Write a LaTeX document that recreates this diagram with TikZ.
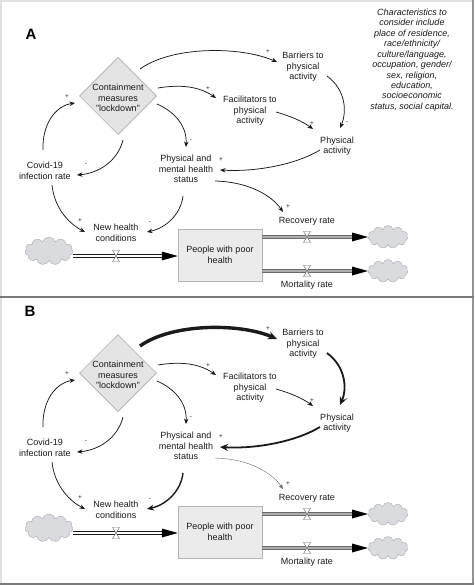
\documentclass[tikz,border=0pt]{standalone}
\usepackage{fontspec}
\setmainfont{Liberation Sans}
\usetikzlibrary{shapes.geometric,shapes.symbols,arrows.meta,calc}
\definecolor{txt}{HTML}{1A1A1A}
\definecolor{dfill}{HTML}{E4E4E4}
\definecolor{dline}{HTML}{9A9A9A}
\definecolor{bfill}{HTML}{EBEBEB}
\definecolor{bline}{HTML}{B4B4B4}
\definecolor{cfill}{HTML}{D9DBDE}
\definecolor{cline}{HTML}{A8AAAD}
\definecolor{framec}{HTML}{7A7A7A}
\tikzset{
 lbl/.style={font=\fontsize{9}{10.5}\selectfont, align=center, text=txt, inner sep=1pt},
 sgn/.style={font=\fontsize{6.5}{7}\selectfont, text=txt, inner sep=0pt},
 panlbl/.style={font=\fontsize{15}{15}\selectfont\bfseries, text=black, inner sep=0pt},
 dia/.style={diamond, draw=dline, fill=dfill, minimum width=77pt, minimum height=77pt, inner sep=0pt, line width=0.5pt},
 stock/.style={rectangle, draw=bline, fill=bfill, minimum width=84pt, minimum height=52pt, line width=0.5pt},
 cld/.style={cloud, cloud puffs=11, aspect=1.7, draw=cline, fill=cfill, inner sep=0pt, line width=0.4pt},
 conn/.style={draw=txt, line width=0.75pt, -{Stealth[length=5.5pt,width=4.5pt]}},
 pipe/.style={draw=black!90, line width=0.9pt, double=white, double distance=1.3pt},
 tipfill/.style={fill=black},
 valve/.pic={\draw[fill=white, draw=black!60, line width=0.45pt] (-3.5,-5.5) -- (3.5,-5.5) -- (-3.5,5.5) -- (3.5,5.5) -- cycle;},
}
\newcommand\drawpanel[1]{%
 \node[dia] (dia#1) at (118,96) {};
 \node[lbl] (diat#1) at (118,98) {Containment\\measures\\"lockdown"};
 \node[lbl] (bar#1) at (303,67) {Barriers to\\physical\\activity};
 \node[lbl] (fac#1) at (250,111) {Facilitators to\\physical\\activity};
 \node[lbl] (pa#1) at (337,146) {Physical\\activity};
 \node[lbl] (cov#1) at (45,171) {Covid-19\\infection rate};
 \node[lbl] (pmh#1) at (186,169) {Physical and\\mental health\\status};
 \node[lbl] (nhc#1) at (116,233) {New health\\conditions};
 \node[stock, lbl] (box#1) at (220,255) {People with poor\\health};
 \node[cld, minimum width=48pt, minimum height=28pt] (cL#1) at (49,251) {};
 \node[cld, minimum width=40pt, minimum height=23pt] (cRa#1) at (388,237) {};
 \node[cld, minimum width=40pt, minimum height=23pt] (cRb#1) at (388,271) {};
 \node[lbl] (rec#1) at (307,221) {Recovery rate};
 \node[lbl] (mort#1) at (307,285) {Mortality rate};
 \coordinate (pL#1) at ($(box#1.west)+(-14,1)$);
 \draw[pipe] (cL#1.east |- pL#1) -- (pL#1);
 \fill[tipfill] ($(box#1.west)+(-16,-3.5)$) -- ($(box#1.west)+(0,1)$) -- ($(box#1.west)+(-16,5.5)$) -- cycle;
 \draw[pipe] ($(box#1.east)+(0,-18)$) -- ($(cRa#1.west)+(-14,0)$);
 \fill[tipfill] ($(cRa#1.west)+(-16,-4.5)$) -- (cRa#1.west) -- ($(cRa#1.west)+(-16,4.5)$) -- cycle;
 \draw[pipe] ($(box#1.east)+(0,16)$) -- ($(cRb#1.west)+(-14,0)$);
 \fill[tipfill] ($(cRb#1.west)+(-16,-4.5)$) -- (cRb#1.west) -- ($(cRb#1.west)+(-16,4.5)$) -- cycle;
 \pic at (116,256) {valve};
 \pic at (307,237) {valve};
 \pic at (307,271) {valve};
 \draw[c1] ($(dia#1)+(22,-27)$) .. controls (172,46) and (240,46) .. ($(bar#1)+(-26,-5)$);
 \draw[c2] ($(dia#1)+(40,-8)$) .. controls (182,84) and (200,87) .. ($(fac#1)+(-34,-13)$);
 \draw[c3] ($(dia#1)+(39,8)$) .. controls (175,112) and (187,126) .. ($(pmh#1)+(0,-22)$);
 \draw[c4] ($(dia#1)+(5,44)$) .. controls (118,160) and (100,173) .. ($(cov#1)+(32,4)$);
 \draw[c5] ($(cov#1)+(-2,-21)$) .. controls (42,125) and (55,106) .. ($(dia#1)+(-43,7)$);
 \draw[c6] ($(bar#1)+(24,9)$) .. controls (346,90) and (347,112) .. ($(pa#1)+(3,-18)$);
 \draw[c7] ($(fac#1)+(26,1)$) .. controls (290,116) and (302,121) .. ($(pa#1)+(-24,-17)$);
 \draw[c8] ($(pa#1)+(-17,4)$) .. controls (295,165) and (255,172) .. ($(pmh#1)+(34,1)$);
 \draw[c9] ($(pmh#1)+(29,12)$) .. controls (250,182) and (272,196) .. ($(rec#1)+(-24,-9)$);
 \draw[c10] ($(cov#1)+(7,14)$) .. controls (54,205) and (66,222) .. ($(nhc#1)+(-31,-1)$);
 \draw[c11] ($(pmh#1)+(-3,27)$) .. controls (181,214) and (166,228) .. ($(nhc#1)+(31,-1)$);
 \node[sgn] (s1#1) at (268,52) {+};
 \node[sgn] (s2#1) at (208,89) {+};
 \node[sgn] (s3#1) at (191,141) {-};
 \node[sgn] (s4#1) at (86,165) {-};
 \node[sgn] (s5#1) at (67,97) {+};
 \node[sgn] (s6#1) at (347,123) {-};
 \node[sgn] (s7#1) at (312,124) {+};
 \node[sgn] (s8#1) at (221,160) {+};
 \node[sgn] (s9#1) at (288,207) {+};
 \node[sgn] (s10#1) at (80,221) {+};
 \node[sgn] (s11#1) at (150,223) {-};
}
\begin{document}
\begin{tikzpicture}[x=1pt,y=-1pt]
\useasboundingbox (0,0) rectangle (474,585);
\fill[white] (0,0) rectangle (474,585);
\draw[black!12, line width=1.5pt] (0,1) -- (474,1);
\draw[black!12, line width=1.5pt] (1,0) -- (1,585);
\fill[framec!80] (471.5,0) rectangle (474,585);
\fill[framec] (0,582.5) rectangle (474,585);
\draw[framec, line width=1.6pt] (0,297) -- (474,297);
\begin{scope}[c1/.style={conn},c2/.style={conn},c3/.style={conn},c4/.style={conn},c5/.style={conn},c6/.style={conn},c7/.style={conn},c8/.style={conn},c9/.style={conn},c10/.style={conn},c11/.style={conn}]
\node[panlbl] (labA) at (31,34) {A};
\drawpanel{A}
\node[lbl, font=\fontsize{9}{10.45}\selectfont\itshape] (chars) at (412,60) {Characteristics to\\consider include\\place of residence,\\race/ethnicity/\\culture/language,\\occupation, gender/\\sex, religion,\\education,\\socioeconomic\\status, social capital.};
\end{scope}
\begin{scope}[yshift=-277pt,
 c1/.style={draw=txt, line width=3.4pt, -{Stealth[length=9pt,width=8pt]}},
 c2/.style={conn},c3/.style={conn},c4/.style={conn},c5/.style={conn},
 c6/.style={draw=txt, line width=1.8pt, -{Stealth[length=8pt,width=7pt]}},
 c7/.style={conn},
 c8/.style={draw=txt, line width=1.8pt, -{Stealth[length=8pt,width=7pt]}},
 c9/.style={draw=black!60, line width=0.4pt, -{Stealth[length=5pt,width=4pt]}},
 c10/.style={conn},
 c11/.style={draw=txt, line width=1.4pt, -{Stealth[length=7pt,width=6pt]}}]
\node[panlbl] (labB) at (30,34) {B};
\drawpanel{B}
\end{scope}
\end{tikzpicture}
\end{document}
